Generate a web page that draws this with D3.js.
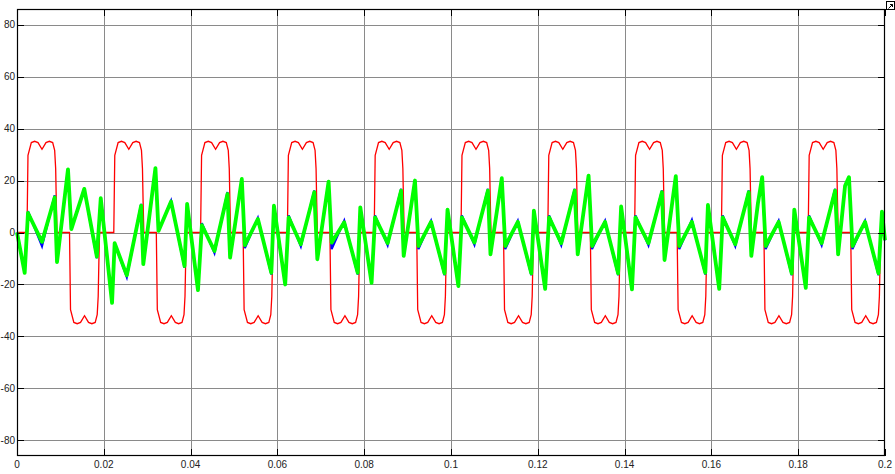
<!DOCTYPE html>
<html>
<head>
<meta charset="utf-8">
<script src="https://cdn.jsdelivr.net/npm/d3@7"></script>
<style>
  body { margin: 0; background: #fff; }
  text { font-family: "Liberation Sans", Arial, sans-serif; }
</style>
</head>
<body>
<div id="chart"></div>
<script>
// axis ticks
const xTicks = [0, 0.02, 0.04, 0.06, 0.08, 0.1, 0.12, 0.14, 0.16, 0.18, 0.2];
const xTickLabels = ["0", "0.02", "0.04", "0.06", "0.08", "0.1", "0.12", "0.14", "0.16", "0.18", "0.2"];
const yTicks = [-80, -60, -40, -20, 0, 20, 40, 60, 80];
const yTickLabels = ["-80", "-60", "-40", "-20", "0", "20", "40", "60", "80"];

// green / blue trace, time in ms
const traceT = [
  0, 1.77, 2.53, 5.76, 8.68, 9.22, 11.75, 12.52, 15.5, 18.4, 19.3,
  21.9, 22.5, 25.3, 28.6, 29.1, 31.9, 32.6, 35.5, 38.6, 39.2,
  41.7, 42.6, 45.5, 48.5, 49.1, 51.8, 52.5, 55.5, 58.6, 59.2,
  61.8, 62.6, 65.4, 68.5, 69.2, 71.8, 72.5, 75.4, 78.5, 79.1,
  81.7, 82.5, 85.4, 88.5, 89.1, 91.7, 92.5, 95.4, 98.5, 99.2,
  101.7, 102.5, 105.4, 108.5, 109.1, 111.7, 112.5, 115.4, 118.5, 119.1,
  121.7, 122.6, 125.4, 128.5, 129.2, 131.7, 132.5, 135.5, 138.5, 139.2,
  141.7, 142.5, 145.5, 148.6, 149.2, 151.8, 152.6, 155.5, 158.6, 159.2,
  161.8, 162.6, 165.5, 168.6, 169.2, 170.7, 171.7, 172.5, 175.5, 178.5, 179.1,
  181.75, 182.5, 185.4, 188.5, 189.2, 190.8, 191.7, 192.5, 195.4, 198.5, 199.3, 200
];
const greenV = [
  0, -15.5, 7.5, -3.6, 13.5, -11.4, 24.3, 1.3, 16.8, -9.3, 13.2,
  -27.1, -4.1, -16.5, 10.3, -12.2, 24.8, 0.6, 11.9, -12.9, 11,
  -22.2, 2.8, -7.1, 14.8, -9.7, 20.6, -4.9, 5.2, -15.5, 10.3,
  -20, 5.8, -4.5, 15.5, -10.3, 19.6, -3.9, 3.9, -15.5, 9.7,
  -19.4, 5.8, -4.1, 16.1, -9, 20, -5.2, 4.1, -15.7, 8.8,
  -20.6, 5.8, -3.9, 16.1, -8.4, 20.9, -5.2, 4.1, -15.7, 8.4,
  -21.7, 5.8, -4.1, 16.1, -8.4, 21.9, -5.2, 4.1, -15.7, 10,
  -21.9, 5.8, -4.1, 15.5, -10.6, 21.7, -5.2, 4.1, -15.5, 10.6,
  -21.7, 5.8, -4.5, 15.5, -9, 11, 21.3, -5.2, 4.1, -15.7, 8.8,
  -21.3, 5.8, -4.1, 16.1, -8.4, 18, 21.3, -5.2, 4.1, -15.7, 8, -3
];
const blueV = [
  0, -15.5, 8.2, -5.3, 14.3, -11.4, 24.3, 1.3, 16.8, -9.9, 13.2,
  -27.1, -4.1, -17.2, 11, -12.2, 24.8, 0.6, 12.2, -13.6, 11,
  -22.2, 3.6, -7.9, 15.6, -9.7, 20.6, -6, 5.6, -16.2, 10.3,
  -20, 6.6, -5.3, 16.2, -10.3, 19.6, -6.4, 4.6, -16.2, 9.7,
  -19.4, 6.6, -4.9, 16.8, -9, 20, -6.4, 4.5, -16.4, 8.8,
  -20.6, 6.6, -4.7, 16.8, -8.4, 20.9, -6.4, 4.5, -16.4, 8.4,
  -21.7, 6.6, -4.9, 16.8, -8.4, 21.9, -6.4, 4.5, -16.4, 10,
  -21.9, 6.6, -4.9, 16.2, -10.6, 21.7, -6.4, 4.8, -16.2, 10.6,
  -21.7, 6.6, -5.3, 16.2, -9, 11, 21.3, -6.4, 4.5, -16.4, 8.8,
  -21.3, 6.6, -4.9, 16.8, -8.4, 18, 21.3, -6.4, 4.5, -16.4, 8, -3
];

// red pulse train: one pulse outline (ms from edge, value) and each pulse's edge time
const pulseDt = [0, 0.23, 1.0, 1.77, 2.54, 3.46, 4.38, 5.15, 5.92, 6.38, 6.61, 6.76, 6.92];
const pulseV = [0, 29.7, 34.6, 35.1, 34.6, 32, 34.6, 35.1, 34.6, 31.6, 24.5, 11.6, 0];
const posStart = [2.3, 22.3, 42.3, 62.3, 82.3, 102.3, 122.3, 142.3, 162.3, 182.3];
const negStart = [12.1, 32.1, 52.1, 72.1, 92.1, 112.1, 132.1, 152.1, 172.1, 192.1];

const W = 895, H = 474;
const L = 17, R = 885, T = 9, B = 456;

const svg = d3.select("#chart").append("svg")
  .attr("width", W).attr("height", H);

const x = d3.scaleLinear().domain([0, 0.2]).range([L, R]);
const y = d3.scaleLinear().domain([-86, 86]).range([B, T]);

// grid
svg.append("g").selectAll("line").data(xTicks.slice(1, -1)).enter().append("line")
  .attr("x1", d => Math.round(x(d)) + 0.5).attr("x2", d => Math.round(x(d)) + 0.5)
  .attr("y1", T).attr("y2", B).attr("stroke", "#8a8a8a").attr("stroke-width", 1);
svg.append("g").selectAll("line").data(yTicks).enter().append("line")
  .attr("y1", d => Math.round(y(d)) + 0.5).attr("y2", d => Math.round(y(d)) + 0.5)
  .attr("x1", L).attr("x2", R).attr("stroke", "#8a8a8a").attr("stroke-width", 1);

// series
const redPts = [[0, 0]];
const starts = posStart.map(s => [s, 1]).concat(negStart.map(s => [s, -1])).sort((a, b) => a[0] - b[0]);
starts.forEach(([s, sign]) => {
  pulseDt.forEach((dt, i) => redPts.push([s + dt, sign * pulseV[i]]));
});
redPts.push([200, 0]);

const line = d3.line().x(d => x(d[0] / 1000)).y(d => y(d[1]));
const plot = svg.append("g");
plot.append("path").datum(redPts).attr("fill", "none").attr("stroke", "#ff0000")
  .attr("stroke-width", 1.3).attr("d", line);
plot.append("path").datum(traceT.map((t, i) => [t, blueV[i]])).attr("fill", "none")
  .attr("stroke", "#0000ff").attr("stroke-width", 2.2).attr("stroke-linejoin", "miter").attr("d", line);
plot.append("path").datum(traceT.map((t, i) => [t, greenV[i]])).attr("fill", "none")
  .attr("stroke", "#00ff00").attr("stroke-width", 3.8).attr("stroke-linejoin", "round").attr("d", line);

// box + inward ticks
const box = svg.append("g").attr("stroke", "#000").attr("fill", "none");
box.append("rect").attr("x", L + 0.5).attr("y", T + 0.5).attr("width", R - L - 1).attr("height", B - T - 1)
  .attr("stroke-width", 1.2);
const tk = 7;
xTicks.forEach(d => {
  const px = Math.round(x(d)) + 0.5;
  box.append("line").attr("x1", px).attr("x2", px).attr("y1", B).attr("y2", B - tk);
  box.append("line").attr("x1", px).attr("x2", px).attr("y1", T).attr("y2", T + tk);
});
yTicks.forEach(d => {
  const py = Math.round(y(d)) + 0.5;
  box.append("line").attr("x1", L).attr("x2", L + tk).attr("y1", py).attr("y2", py);
  box.append("line").attr("x1", R).attr("x2", R - tk).attr("y1", py).attr("y2", py);
});

// labels
svg.append("g").selectAll("text").data(xTicks).enter().append("text")
  .attr("x", d => x(d)).attr("y", B + 12)
  .attr("text-anchor", "middle").attr("font-size", 10).attr("fill", "#222")
  .text((d, i) => xTickLabels[i]);
svg.append("g").selectAll("text").data(yTicks).enter().append("text")
  .attr("x", L - 2).attr("y", d => y(d) + 3.5)
  .attr("text-anchor", "end").attr("font-size", 10).attr("fill", "#222")
  .text((d, i) => yTickLabels[i]);

// little undock icon at top right
const ic = svg.append("g").attr("stroke", "#000").attr("fill", "none");
ic.append("rect").attr("x", 886.5).attr("y", 1.5).attr("width", 8).attr("height", 8);
ic.append("path").attr("d", "M888.5,8.5 L892.5,4.5 M890,4.5 L892.5,4.5 L892.5,7");
</script>
</body>
</html>
